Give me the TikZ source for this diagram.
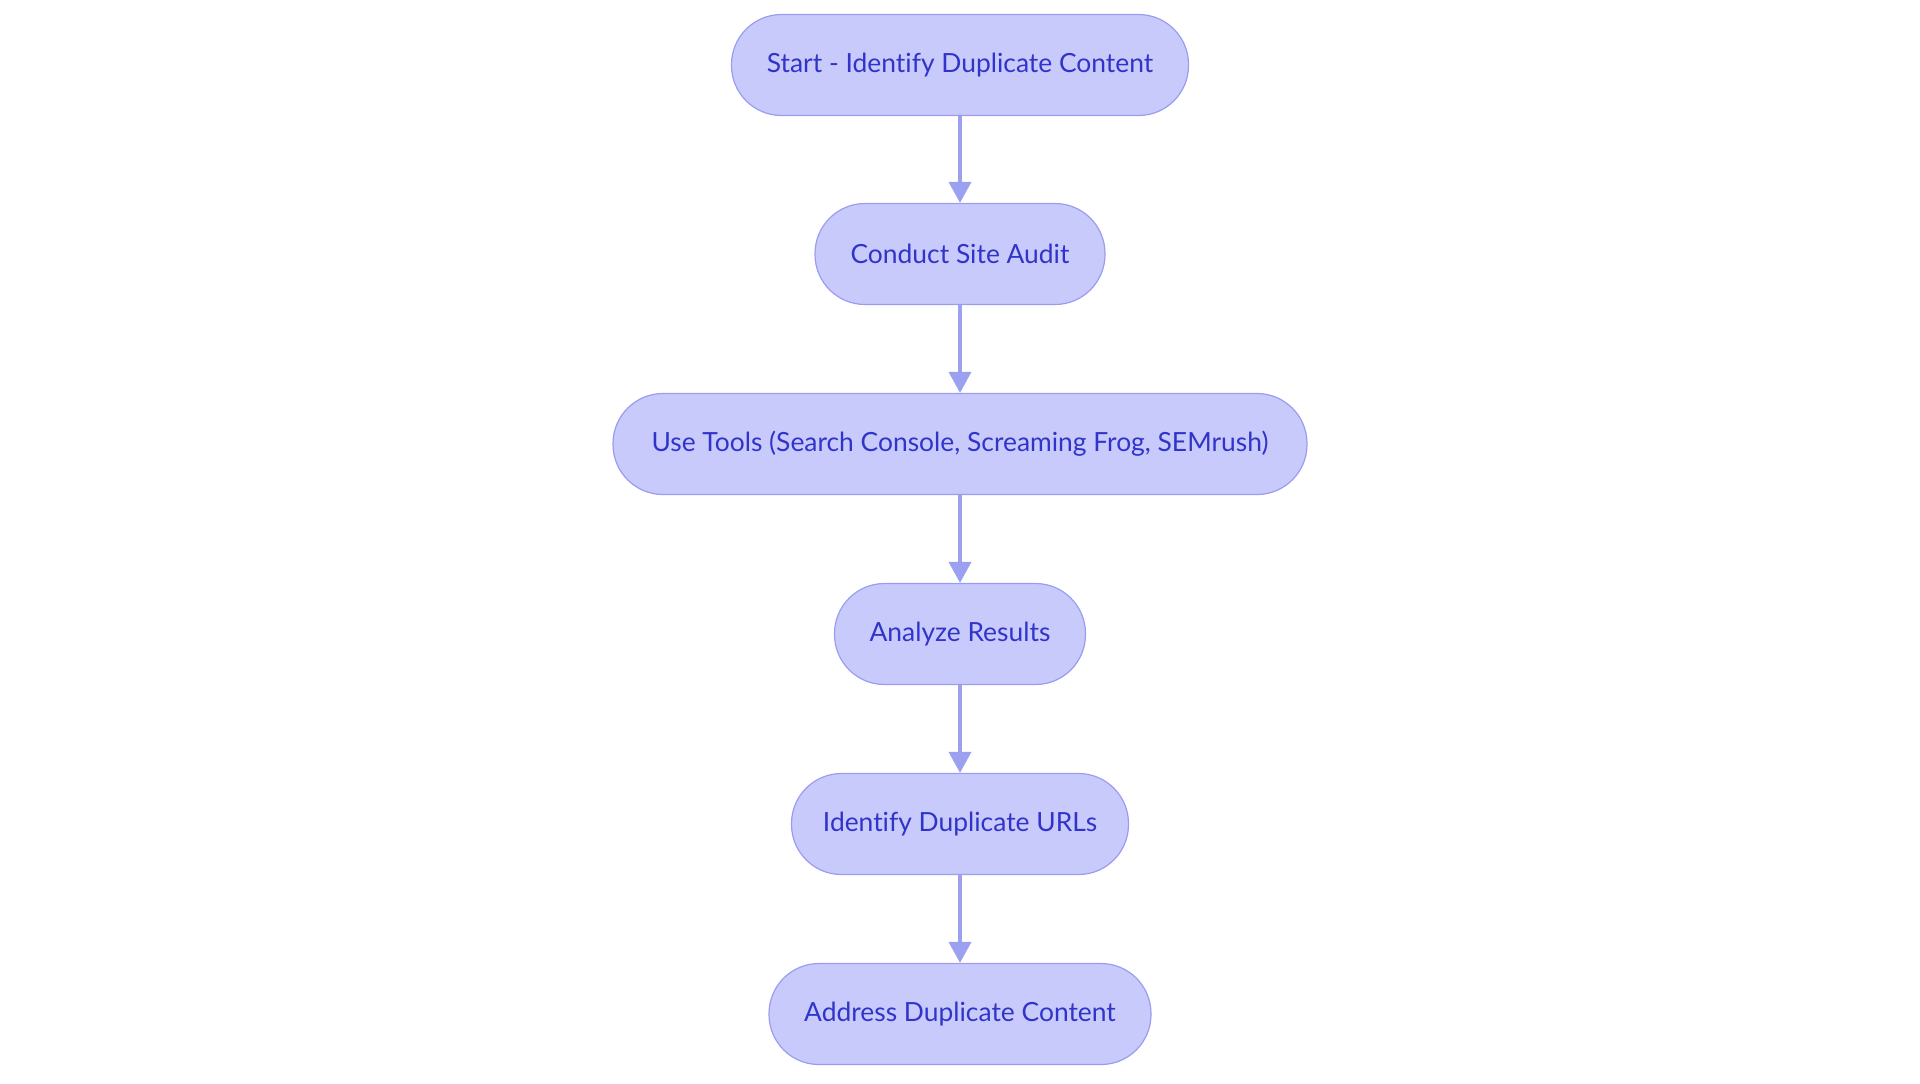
\documentclass[tikz,border=0pt]{standalone}
\usepackage{fontspec}
\setmainfont[Ligatures=NoCommon]{Lato}
\usetikzlibrary{arrows.meta}
\definecolor{boxfill}{HTML}{C9CAFC}
\definecolor{boxline}{HTML}{9A9CF0}
\definecolor{arrowc}{HTML}{9CA0F0}
\definecolor{txt}{HTML}{3034C8}
\begin{document}
\begin{tikzpicture}[x=0.5pt,y=-0.5pt,
  stepbox/.style={draw=boxline, fill=boxfill, line width=0.6pt, rounded corners=25pt,
    minimum height=50.5pt, inner xsep=0pt, text=txt,
    font=\fontsize{13.2}{15.8}\selectfont},
  flow/.style={draw=arrowc, line width=1.8pt, -{Triangle[length=10.5pt,width=11pt]}}]
\useasboundingbox (0,0) rectangle (1920,1083);
\node[stepbox, minimum width=228.5pt] (n1) at (960,65) {Start - Identify Duplicate Content};
\node[stepbox, minimum width=145pt] (n2) at (960,254) {Conduct Site Audit};
\node[stepbox, minimum width=347pt] (n3) at (960,444) {Use Tools (Search Console, Screaming Frog, SEMrush)};
\node[stepbox, minimum width=125.5pt] (n4) at (960,634) {Analyze Results};
\node[stepbox, minimum width=168.5pt] (n5) at (960,824) {Identify Duplicate URLs};
\node[stepbox, minimum width=191pt] (n6) at (960,1014) {Address Duplicate Content};
\draw[flow] (n1) -- (n2);
\draw[flow] (n2) -- (n3);
\draw[flow] (n3) -- (n4);
\draw[flow] (n4) -- (n5);
\draw[flow] (n5) -- (n6);
\end{tikzpicture}
\end{document}
